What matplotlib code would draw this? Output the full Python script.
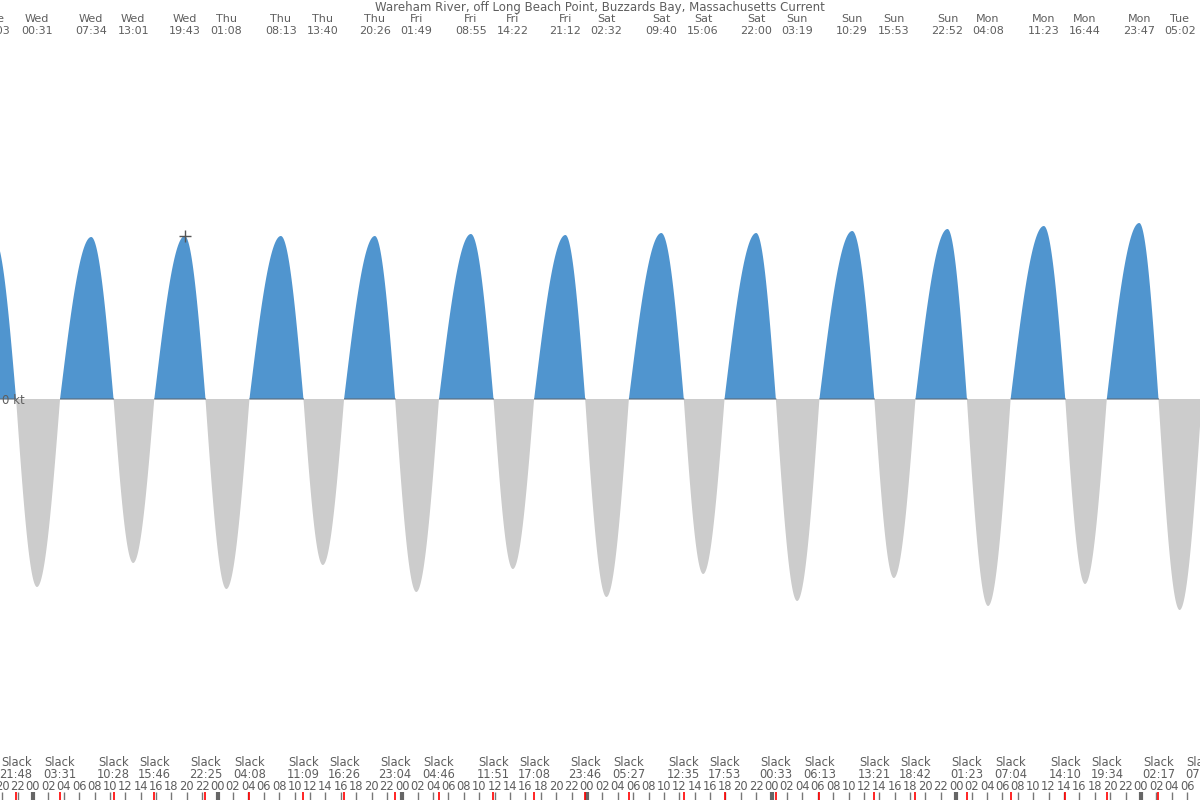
import numpy as np
import matplotlib
matplotlib.use('Agg')
import matplotlib.pyplot as plt
from matplotlib.transforms import blended_transform_factory

# Wareham River current prediction, times in hours from Wed 00:00

titulo = 'Wareham River, off Long Beach Point, Buzzards Bay, Massachusetts Current'

# maximos de corrente (enchente > 0, vazante < 0), valores em kt
max_dia = ['Tue', 'Wed', 'Wed', 'Wed', 'Wed', 'Thu', 'Thu', 'Thu', 'Thu',
           'Fri', 'Fri', 'Fri', 'Fri', 'Sat', 'Sat', 'Sat', 'Sat',
           'Sun', 'Sun', 'Sun', 'Sun', 'Mon', 'Mon', 'Mon', 'Mon', 'Tue']
max_hora = ['19:03', '00:31', '07:34', '13:01', '19:43', '01:08', '08:13', '13:40', '20:26',
            '01:49', '08:55', '14:22', '21:12', '02:32', '09:40', '15:06', '22:00',
            '03:19', '10:29', '15:53', '22:52', '04:08', '11:23', '16:44', '23:47', '05:02']
max_valor = [1.59, -1.88, 1.62, -1.64, 1.63, -1.90, 1.63, -1.66, 1.63,
             -1.93, 1.65, -1.70, 1.64, -1.98, 1.66, -1.75, 1.66,
             -2.02, 1.68, -1.79, 1.70, -2.07, 1.73, -1.85, 1.76, -2.11]

# estofas (slack)
slack_dia = ['Tue', 'Wed', 'Wed', 'Wed', 'Wed', 'Thu', 'Thu', 'Thu', 'Thu',
             'Fri', 'Fri', 'Fri', 'Fri', 'Sat', 'Sat', 'Sat', 'Sun',
             'Sun', 'Sun', 'Sun', 'Mon', 'Mon', 'Mon', 'Mon', 'Tue', 'Tue']
slack_hora = ['21:48', '03:31', '10:28', '15:46', '22:25', '04:08', '11:09', '16:26', '23:04',
              '04:46', '11:51', '17:08', '23:46', '05:27', '12:35', '17:53', '00:33',
              '06:13', '13:21', '18:42', '01:23', '07:04', '14:10', '19:34', '02:17', '07:55']

cor_azul = '#5095cf'
cor_cinza = '#cccccc'
cor_texto = '#5e5e5e'


def para_horas(dias, horas):
    # o dia avanca sempre que o nome muda, primeiro Tue = -1
    d = -1
    res = []
    for i, (nome, hm) in enumerate(zip(dias, horas)):
        if i > 0 and nome != dias[i - 1]:
            d += 1
        hh, mm = hm.split(':')
        res.append(d * 24 + int(hh) + int(mm) / 60)
    return np.array(res)


t_max = para_horas(max_dia, max_hora)
t_slack = para_horas(slack_dia, slack_hora)

# eventos ordenados: estofa = 0
ev_t = np.concatenate([t_max, t_slack])
ev_v = np.concatenate([max_valor, np.zeros(len(t_slack))])
ordem = np.argsort(ev_t)
ev_t, ev_v = ev_t[ordem], ev_v[ordem]

# curva entre eventos (quarto de seno entre estofa e maximo)
t = []
v = []
for i in range(len(ev_t) - 1):
    a, b = ev_t[i], ev_t[i + 1]
    tt = np.linspace(a, b, 60)
    f = (tt - a) / (b - a)
    if ev_v[i] == 0:
        vv = ev_v[i + 1] * np.sin(np.pi / 2 * f)
    else:
        vv = ev_v[i] * np.cos(np.pi / 2 * f)
    t.append(tt)
    v.append(vv)
t = np.concatenate(t)
v = np.concatenate(v)

fig = plt.figure(figsize=(12, 8), dpi=100)
ax = fig.add_axes([0, 0, 1, 1])
ax.set_xlim(-4.289, 151.68)
ax.set_ylim(-4.01, 3.99)
ax.axis('off')

ax.fill_between(t, v, 0, where=v >= 0, color=cor_azul, lw=0, interpolate=True)
ax.fill_between(t, v, 0, where=v <= 0, color=cor_cinza, lw=0, interpolate=True)
ax.plot(t, np.where(v > 0, 0, np.nan), color='#5a6a7a', lw=0.8)

# marca de "agora"
ax.plot(t_max[4], max_valor[4], marker='+', color='#555555', ms=9, mew=1)

ax.text(0.002, -0.01, '0 kt', transform=blended_transform_factory(fig.transFigure, ax.transData),
        ha='left', va='center', fontsize=8.5, color=cor_texto)

trans = blended_transform_factory(ax.transData, fig.transFigure)

# titulo e rotulos superiores
fig.text(0.5, 1 - 7 / 800, titulo, ha='center', va='center', fontsize=8.5, color=cor_texto)
for tm, dia, hm in zip(t_max, max_dia, max_hora):
    ax.text(tm, 1 - 19 / 800, dia, transform=trans, ha='center', va='center',
            fontsize=8, color=cor_texto, clip_on=False)
    ax.text(tm, 1 - 31 / 800, hm, transform=trans, ha='center', va='center',
            fontsize=8, color=cor_texto, clip_on=False)

# rotulos inferiores das estofas
for ts, hm in zip(t_slack, slack_hora):
    ax.text(ts, 1 - 762 / 800, 'Slack', transform=trans, ha='center', va='center',
            fontsize=8.3, color=cor_texto)
    ax.text(ts, 1 - 775 / 800, hm, transform=trans, ha='center', va='center',
            fontsize=8.3, color=cor_texto)

# horas a cada 2h
for h in range(-4, 152, 2):
    ax.text(h, 1 - 787 / 800, '%02d' % (h % 24), transform=trans, ha='center', va='center',
            fontsize=8.3, color=cor_texto)
    if h % 24 == 0:
        ax.plot([h, h], [0, 8 / 800], transform=trans, color='#666666', lw=3, solid_capstyle='butt')
    else:
        ax.plot([h, h], [0, 8 / 800], transform=trans, color='#777777', lw=1, solid_capstyle='butt')

for ts in t_slack:
    ax.plot([ts, ts], [0, 8 / 800], transform=trans, color='red', lw=1.2, solid_capstyle='butt')

fig.savefig('out.png', dpi=100)
